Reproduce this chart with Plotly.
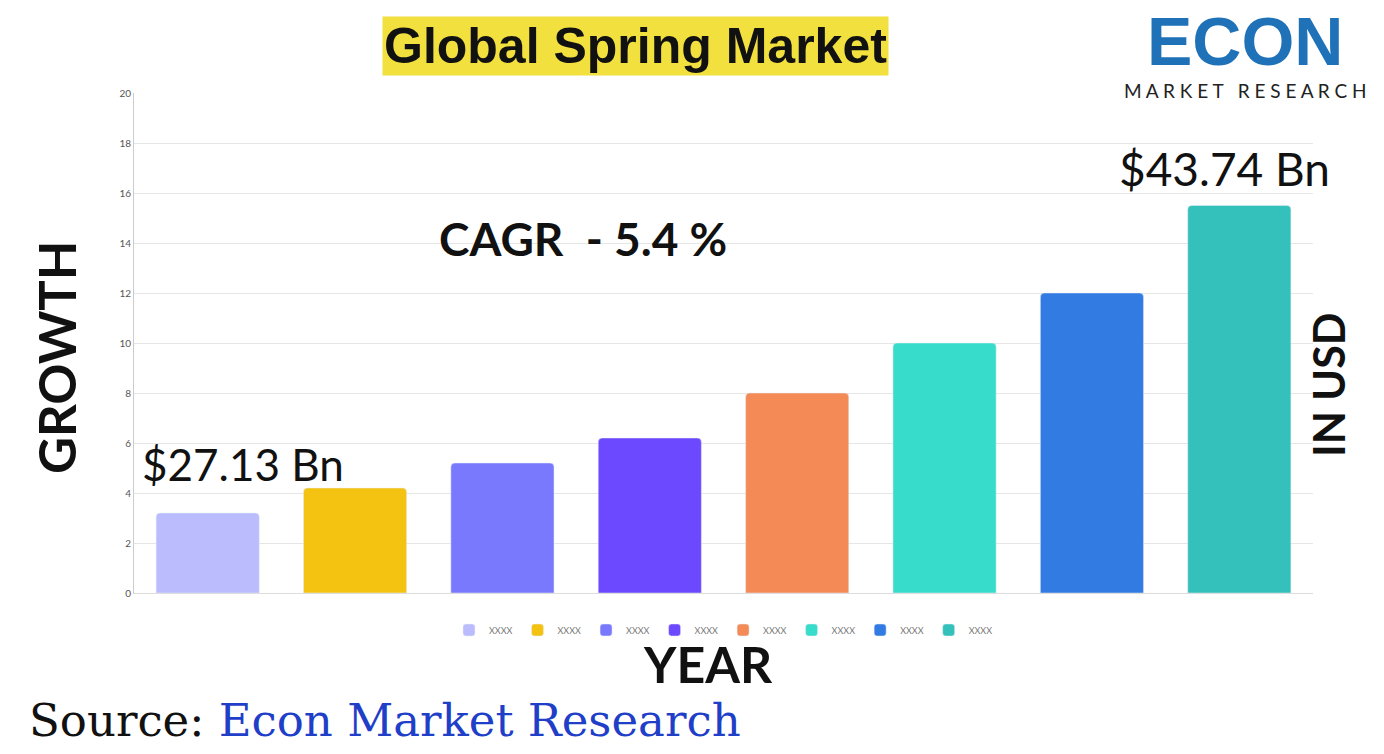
import plotly.graph_objects as go

categories = ["2017", "2018", "2019", "2020", "2021", "2022", "2023", "2024"]
values = [3.2, 4.2, 5.2, 6.2, 8.0, 10.0, 12.0, 15.5]
legend_names = ["XXXX"] * 8
colors = ["#babcfd", "#f4c312", "#7979fe", "#6c48fe", "#f48b57", "#37dccb", "#327be3", "#35c1bb"]
y_ticks = [0, 2, 4, 6, 8, 10, 12, 14, 16, 18, 20]

L, R, T, B = 134, 71, 93, 161
fig = go.Figure()
for c, v, n, col in zip(categories, values, legend_names, colors):
    fig.add_trace(go.Bar(x=[c], y=[v], name=n, marker=dict(color=col, cornerradius=4),
                         width=0.7))

fig.update_layout(
    width=1384, height=754, barmode="overlay",
    plot_bgcolor="white", paper_bgcolor="white",
    margin=dict(l=L, r=R, t=T, b=B, autoexpand=False),
    showlegend=True,
    legend=dict(orientation="h", x=0.5, xanchor="center", y=-0.045, yanchor="top",
                font=dict(size=9, color="#777", family="Lato"), itemwidth=30,
                tracegroupgap=0),
    xaxis=dict(showticklabels=False, showline=True, linecolor="#ddd", ticks="", automargin=False),
    yaxis=dict(range=[0, 20], tickvals=y_ticks, showgrid=True, gridcolor="#e6e6e6", automargin=False,
               showline=True, linecolor="#ccc", tickfont=dict(size=10, color="#555", family="Lato"),
               zeroline=False),
    font=dict(family="Lato"),
)

def P(px, py):
    return (px - L) / (1384 - L - R), (754 - B - py) / (754 - T - B)

specs = [
    ("<b>Global Spring Market</b>", 635, 46, 0, dict(size=50, family="Liberation Sans", color="#111"), "#f2e03e"),
    ("<b>CAGR  - 5.4 %</b>", 583, 238, 0, dict(size=46, family="Lato", color="#111"), None),
    ("$27.13 Bn", 243, 464, 0, dict(size=44, family="Lato", color="#111"), None),
    ("$43.74 Bn", 1224, 168, 0, dict(size=46, family="Lato", color="#111"), None),
    ("<b>GROWTH</b>", 56, 358, -90, dict(size=51, family="Lato", color="#111"), None),
    ("<b>IN USD</b>", 1328, 385, -90, dict(size=43, family="Lato", color="#111"), None),
    ("<b>YEAR</b>", 708, 664, 0, dict(size=50, family="Lato", color="#111"), None),
    ("Source: <span style='color:#1f3fc8'>Econ Market Research</span>", 385, 720, 0,
     dict(size=45, family="DejaVu Serif", color="#111"), None),
    ("<b>ECON</b>", 1245, 41, 0, dict(size=68, family="Liberation Sans", color="#1f72b8"), None),
    ("M A R K E T   R E S E A R C H", 1245, 90, 0, dict(size=19, family="Lato", color="#222"), None),
]
anns = []
for text, px, py, ang, font, bg in specs:
    x, y = P(px, py)
    a = dict(text=text, x=x, y=y, xref="paper", yref="paper", showarrow=False,
             xanchor="center", yanchor="middle", textangle=ang, font=font)
    if bg:
        a["bgcolor"] = bg
    anns.append(a)
fig.update_layout(annotations=anns)

fig.write_html("out.html", post_script="document.body.style.margin='0';",
               config={"displayModeBar": False})
